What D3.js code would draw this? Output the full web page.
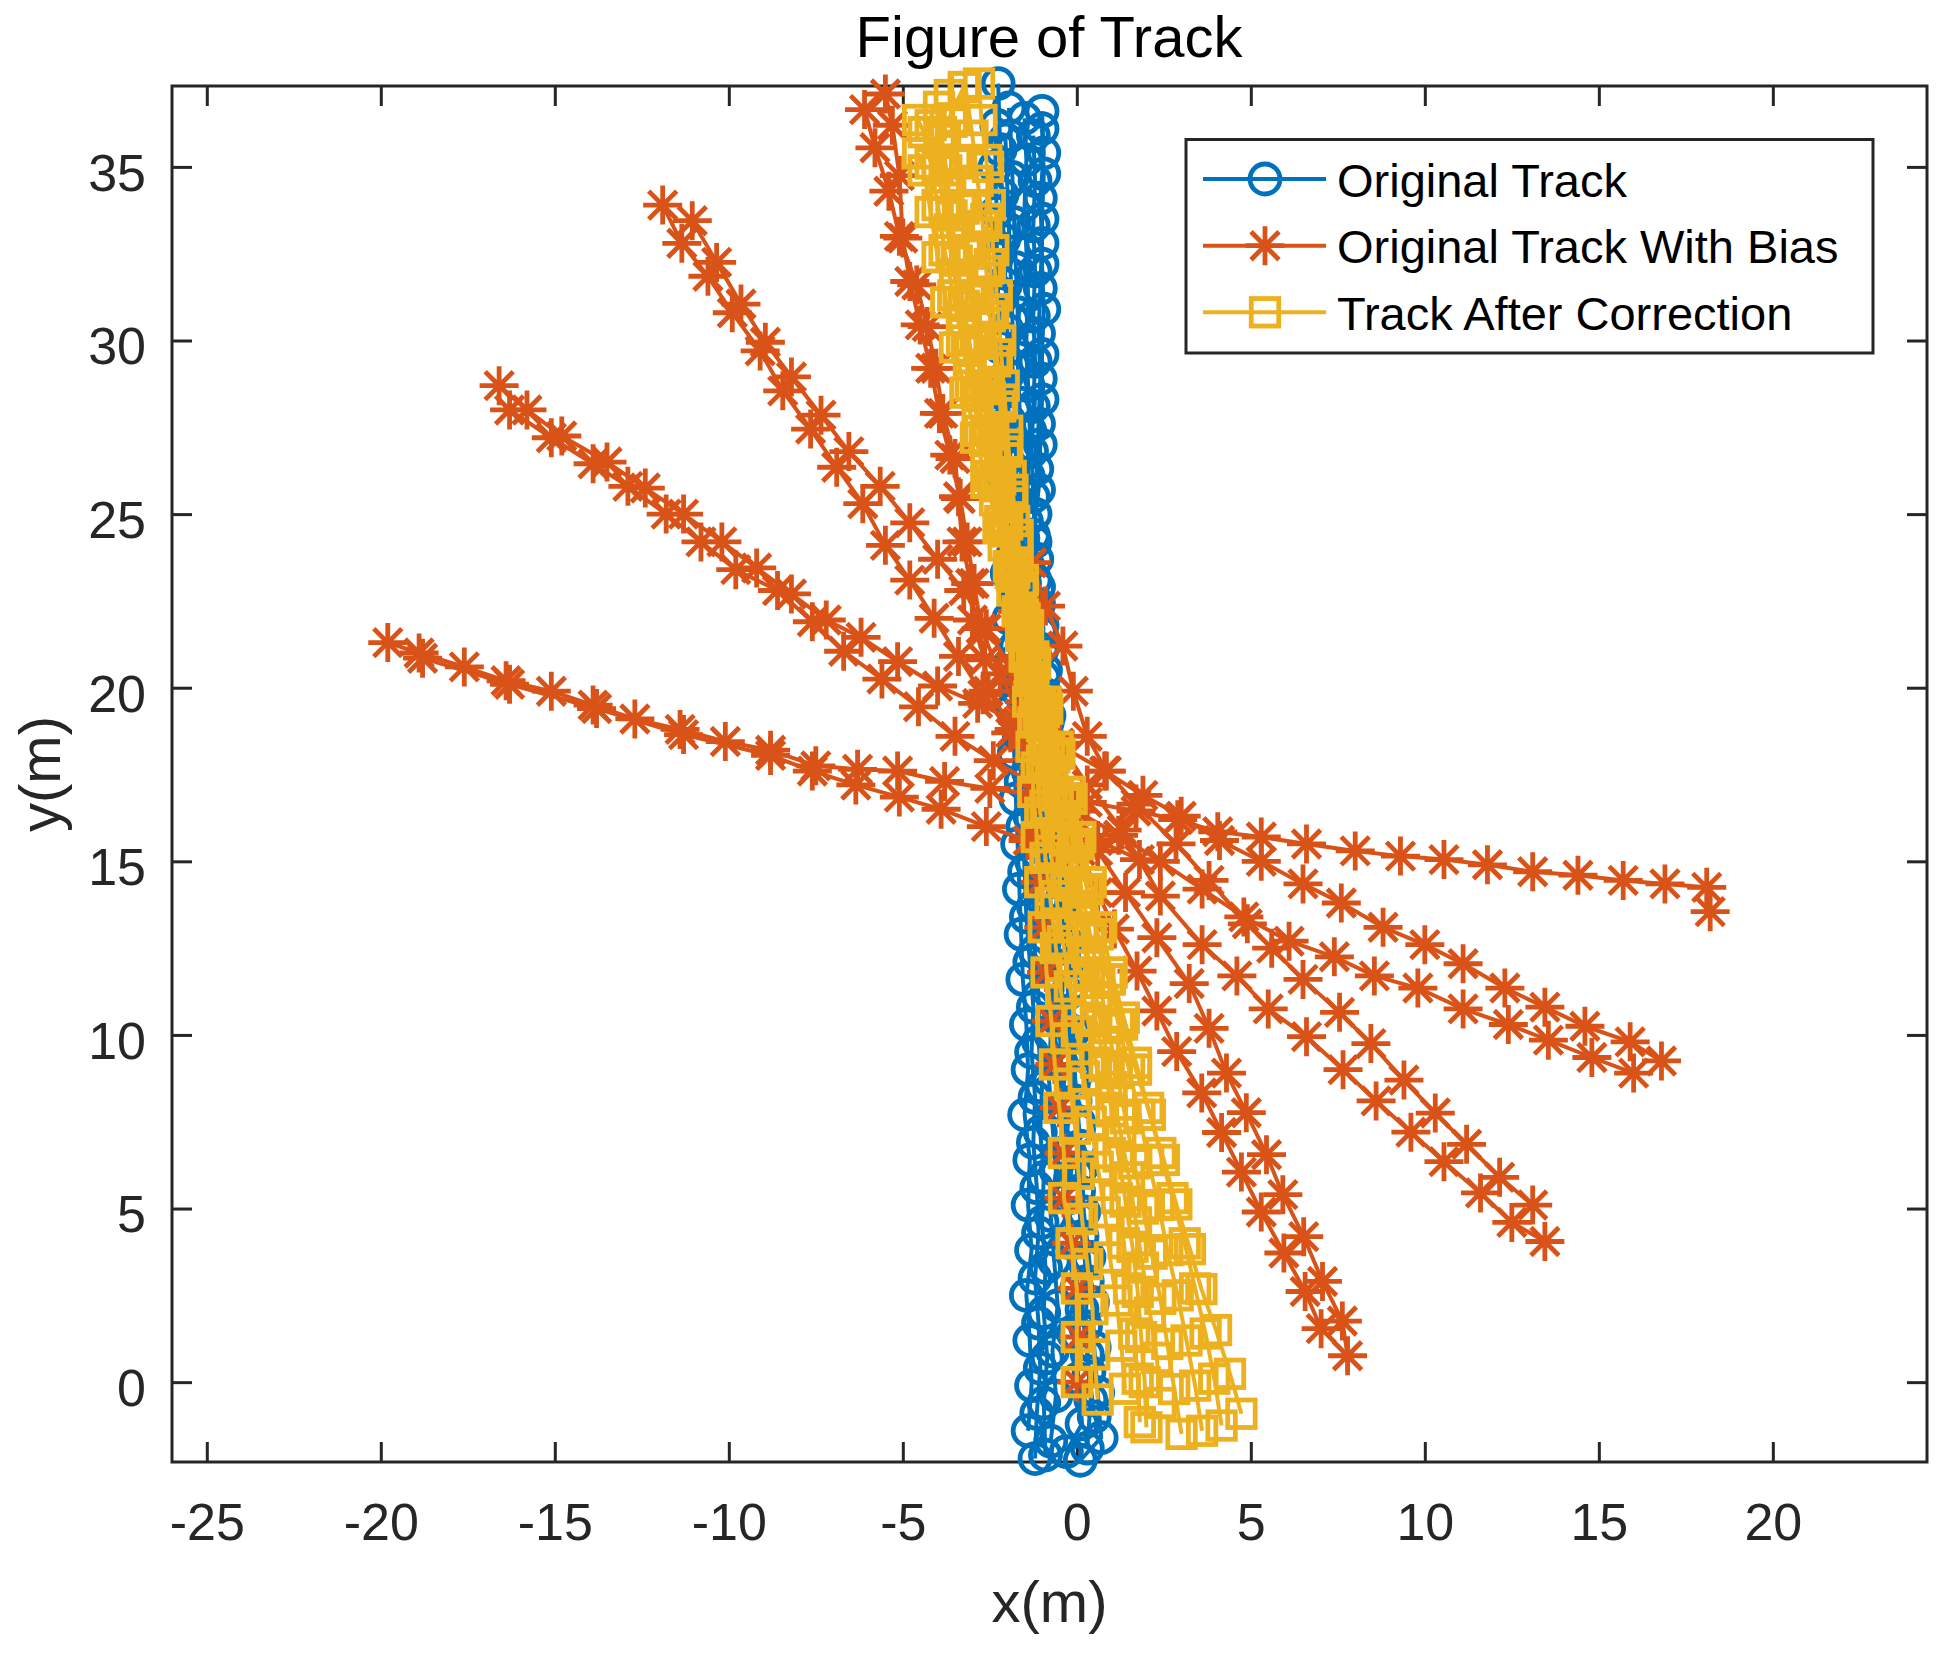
<!DOCTYPE html>
<html><head><meta charset="utf-8">
<script src="https://cdn.jsdelivr.net/npm/d3@7"></script>
<style>
body{margin:0;background:#fff;}
svg{display:block;}
text{font-family:"Liberation Sans",Arial,Helvetica,sans-serif;}
</style>
</head><body>
<svg id="chart" width="1956" height="1659"></svg>
<script>
// ---------------- DATA ----------------
const titleText = "Figure of Track";
const xLabel = "x(m)";
const yLabel = "y(m)";
const seriesNames = ["Original Track","Original Track With Bias","Track After Correction"];
const xTicks = [-25,-20,-15,-10,-5,0,5,10,15,20];
const yTicks = [0,5,10,15,20,25,30,35];

// Original Track: passes (x values at their y levels)
const blueYa = [-2.2,-0.9,0.4,1.7,3.0,4.3,5.6,6.9,8.2,9.5,10.8,12.1,13.4,14.7,16.0,17.3,18.6,19.9,21.2,22.5,23.8,25.1,26.4,27.7,29.0,30.3,31.6,32.9,34.2,35.5,37.4];
const blueX1 = [-1.2,-1.15,-1.05,-1.1,-1.2,-1.1,-1.15,-1.25,-1.2,-1.3,-1.25,-1.35,-1.45,-1.5,-1.55,-1.6,-1.65,-1.7,-1.75,-1.8,-1.85,-1.9,-1.9,-1.95,-2.0,-2.0,-2.05,-2.1,-2.15,-2.2,-2.26];
const blueYb = [-2.25,-1.6,-0.3,1.0,2.3,3.6,4.9,6.2,7.5,8.8,10.1,11.4,12.7,14.0,15.3,16.6,17.9,19.2,20.5,21.8,23.1,24.4,25.7,27.0,28.3,29.6,30.9,32.2,33.5,34.8,36.1];
const blueX2 = [0.1,0.7,0.6,0.5,0.45,0.35,0.2,0.15,0.05,-0.05,-0.1,-0.2,-0.3,-0.4,-0.5,-0.6,-0.7,-0.8,-0.9,-1.0,-1.2,-1.25,-1.1,-1.05,-1.0,-1.0,-0.95,-1.0,-1.0,-0.95,-1.0];
const blueYc = [-1.7,-0.4,0.9,2.2,3.5,4.8,6.1,7.4,8.7,10.0,11.3,12.6,13.9,15.2,16.5,17.8,19.1,20.4,21.7,23.0,24.3,25.6,26.9,28.2,29.5,30.8,32.1,33.4,34.7,35.9,36.7];
const blueX3 = [-0.75,-0.6,-0.7,-0.55,-0.65,-0.75,-0.6,-0.7,-0.8,-0.75,-0.85,-0.95,-1.0,-1.1,-1.15,-1.2,-1.3,-1.35,-1.4,-1.5,-1.55,-1.6,-1.6,-1.65,-1.7,-1.7,-1.75,-1.8,-1.85,-1.9,-1.95];
const blueYd = [-2.0,-1.2,0.1,1.4,2.7,4.0,5.3,6.6,7.9,9.2,10.5,11.8,13.1,14.4,15.7,17.0,18.3,19.6,20.9,22.2,23.5,24.8,26.1,27.4,28.7,30.0,31.3,32.6,33.9,35.2,36.4];
const blueX4 = [-0.3,0.15,0.05,-0.1,0.0,-0.15,-0.25,-0.2,-0.35,-0.45,-0.5,-0.6,-0.7,-0.8,-0.9,-1.0,-1.05,-1.1,-1.2,-1.3,-1.4,-1.45,-1.4,-1.35,-1.4,-1.45,-1.4,-1.45,-1.5,-1.45,-1.5];
const blueYe = [-1.4,-0.1,1.2,2.5,3.8,5.1,6.4,7.7,9.0,10.3,11.6,12.9,14.2,15.5,16.8,18.1,19.4,20.7,22.0,23.3,24.6,25.9,27.2,28.5,29.8,31.1,32.4,33.7,35.0,36.2];
const blueX5 = [-1.4,-1.3,-1.35,-1.45,-1.3,-1.4,-1.35,-1.5,-1.4,-1.45,-1.55,-1.6,-1.65,-1.7,-1.75,-1.8,-1.85,-1.9,-1.95,-2.0,-2.05,-2.1,-2.15,-2.2,-2.2,-2.25,-2.3,-2.3,-2.35,-2.3];
const blueYf = [-1.0,0.3,1.6,2.9,4.2,5.5,6.8,8.1,9.4,10.7,12.0,13.3,14.6,15.9,17.2,18.5,19.8,21.1,22.4,23.7,25.0,26.3,27.6,28.9,30.2,31.5,32.8,34.1,35.4,36.6];
const blueX6 = [0.5,0.35,0.25,0.3,0.15,0.05,0.1,-0.05,-0.15,-0.2,-0.3,-0.4,-0.5,-0.6,-0.7,-0.8,-0.9,-1.0,-1.1,-1.15,-1.2,-1.15,-1.1,-1.05,-1.1,-1.05,-1.0,-1.05,-0.95,-1.0];
const blueYg = [-2.1,-0.6,0.7,2.0,3.3,4.6,5.9,7.2,8.5,9.8,11.1,12.4,13.7,15.0,16.3,17.6,18.9,20.2,21.5,22.8,24.1,25.4,26.7,28.0,29.3,30.6,31.9,33.2,34.5,35.8];
const blueX7 = [-0.9,-0.95,-0.85,-0.95,-0.9,-1.0,-0.95,-1.05,-1.0,-1.1,-1.1,-1.2,-1.25,-1.3,-1.35,-1.4,-1.5,-1.55,-1.6,-1.65,-1.7,-1.75,-1.75,-1.8,-1.85,-1.85,-1.9,-1.95,-2.0,-2.05];
const blueYh = [-1.9,-0.5,0.8,2.1,3.4,4.7,6.0,7.3,8.6,9.9,11.2,12.5,13.8,15.1,16.4,17.7,19.0,20.3,21.6,22.9,24.2,25.5,26.8,28.1,29.4,30.7,32.0,33.3,34.6,35.9];
const blueX8 = [0.3,0.4,0.3,0.15,0.25,0.1,0.0,0.05,-0.1,-0.2,-0.25,-0.35,-0.45,-0.6,-0.65,-0.75,-0.85,-0.95,-1.05,-1.1,-1.2,-1.25,-1.3,-1.25,-1.2,-1.25,-1.2,-1.25,-1.2,-1.25];

// Original Track With Bias: passes as [x,y]
const biasA1 = [[-19.8,21.3],[-18.9,21.0],[-17.6,20.6],[-16.4,20.2],[-15.1,19.9],[-13.9,19.5],[-12.7,19.1],[-11.4,18.8],[-10.1,18.45],[-8.8,18.2],[-7.5,17.75],[-6.3,17.65],[-5.15,17.6],[-3.8,17.3],[-2.5,17.1],[-1.1,16.9],[0.3,16.7],[1.7,16.45],[2.9,16.2],[4.05,15.85],[5.3,15.7],[6.6,15.5],[8.0,15.3],[9.3,15.15],[10.55,15.05],[11.8,14.9],[13.1,14.7],[14.4,14.6],[15.7,14.45],[16.9,14.35],[18.1,14.25],[18.2,13.55]];
const biasA2 = [[-18.8,20.85],[-16.3,20.1],[-13.8,19.4],[-11.3,18.65],[-8.8,18.05],[-7.6,17.6],[-6.35,17.2],[-5.1,16.85],[-3.9,16.5],[-2.6,16.0],[-1.4,15.6],[-0.3,15.4]];
const biasB1 = [[-16.6,28.7],[-15.8,28.0],[-14.8,27.25],[-13.5,26.5],[-12.4,25.75],[-11.3,25.0],[-10.2,24.2],[-9.2,23.45],[-8.2,22.7],[-7.2,21.95],[-6.2,21.45],[-5.15,20.75],[-4.0,20.05],[-2.85,19.55],[-1.7,19.0],[-0.5,18.35],[0.8,17.6],[1.9,16.9],[3.0,16.3],[4.1,15.6],[5.3,15.0],[6.5,14.35],[7.6,13.8],[8.8,13.1],[10.0,12.6],[11.1,12.05],[12.3,11.35],[13.45,10.8],[14.6,10.25],[15.9,9.8],[16.8,9.25]];
const biasB2 = [[-16.3,28.0],[-15.1,27.2],[-13.9,26.45],[-12.9,25.8],[-11.8,25.0],[-10.8,24.2],[-9.8,23.4],[-8.6,22.8],[-7.6,21.9],[-6.7,21.05],[-5.6,20.25],[-4.55,19.45],[-3.5,18.6],[-2.4,17.9],[-1.2,17.2],[0.0,16.45],[1.2,15.75],[2.4,15.0],[3.6,14.2],[4.8,13.4],[6.1,12.7],[7.4,12.25],[8.55,11.7],[9.8,11.35],[11.1,10.75],[12.4,10.3],[13.55,9.85],[14.8,9.35],[16.0,8.9]];
const biasC1 = [[-11.9,33.9],[-11.35,32.8],[-10.6,31.85],[-9.9,30.8],[-9.1,29.7],[-8.45,28.55],[-7.65,27.45],[-6.9,26.35],[-6.15,25.3],[-5.5,24.1],[-4.8,23.1],[-4.1,22.0],[-3.4,20.9],[-2.7,19.8],[-1.9,18.7],[-1.1,17.7],[-0.3,16.6],[0.6,15.6],[1.8,15.05]];
const biasC2 = [[-11.05,33.45],[-10.35,32.25],[-9.65,31.05],[-8.95,29.95],[-8.2,28.95],[-7.35,27.85],[-6.55,26.8],[-5.65,25.8],[-4.8,24.75],[-4.0,23.7],[-3.25,22.8],[-2.6,21.7],[-1.9,20.6],[-1.2,19.5],[-0.5,18.4],[0.3,17.2],[1.3,15.9],[2.4,14.0],[3.6,12.6],[4.6,11.7],[5.5,10.75],[6.6,9.95],[7.65,9.0],[8.6,8.1],[9.6,7.2],[10.55,6.35],[11.6,5.45],[12.5,4.6],[13.45,4.05]];
const biasC3 = [[13.1,5.1],[12.15,5.9],[11.2,6.85],[10.3,7.75],[9.4,8.7],[8.45,9.75],[7.55,10.65],[6.5,11.6],[5.6,12.5],[4.9,13.2],[3.8,14.45],[2.85,15.5],[1.7,16.65],[0.85,17.6],[0.3,18.6],[-0.1,19.9],[-0.4,21.2],[-0.9,22.35],[-1.3,23.6]];
const biasD1 = [[-5.5,37.1],[-5.3,36.2],[-5.1,34.75],[-5.0,32.95],[-4.8,31.7],[-4.5,30.45],[-4.2,29.2],[-3.95,27.9],[-3.65,26.7],[-3.35,25.45],[-3.15,24.2],[-2.95,23.0],[-2.75,21.7],[-2.2,20.4],[-1.6,19.1],[-1.0,17.8],[-0.45,16.55],[0.1,15.3],[0.6,14.1],[1.08,13.05],[1.73,11.84],[2.3,10.69],[2.87,9.52],[3.59,8.33],[4.16,7.19],[4.73,6.05],[5.3,4.9],[5.95,3.72],[6.56,2.61],[7.02,1.54]];
const biasD2 = [[-6.1,36.65],[-5.8,35.55],[-5.4,34.3],[-5.1,33.0],[-4.6,31.6],[-4.3,30.4],[-4.05,29.2],[-3.85,27.9],[-3.5,26.6],[-3.4,25.5],[-3.3,24.2],[-3.05,23.0],[-3.0,21.95],[-2.65,20.8],[-2.55,19.9],[-1.8,18.8],[-1.0,17.6],[-0.2,16.4],[0.6,15.3],[1.4,14.1],[2.3,12.8],[3.23,11.48],[3.8,10.19],[4.3,8.9],[4.87,7.76],[5.45,6.55],[5.92,5.4],[6.52,4.19],[7.06,2.9],[7.63,1.76],[7.78,0.76]];
const biasE = [[0,0],[0.05,1.3],[0.0,2.7],[-0.15,4.0],[-0.37,5.3],[-0.37,6.6],[-0.5,7.9],[-0.63,9.15],[-0.73,10.4],[-0.87,11.8],[-0.95,13.1],[-1.05,14.4],[-1.15,15.7],[-1.3,17.0],[-1.4,18.3],[-1.5,19.6],[-1.6,20.9],[-1.7,22.2],[-1.85,23.5]];

// Track After Correction: passes as [x,y]
const corr1 = [[0,0],[0,1.3],[0,2.7],[-0.15,4.0],[-0.37,5.3],[-0.37,6.6],[-0.5,7.9],[-0.63,9.15],[-0.73,10.4],[-0.87,11.8],[-0.95,13.1],[-1.05,14.4],[-1.15,15.7],[-1.25,17.0],[-1.3,18.3],[-1.4,19.6],[-1.5,20.9],[-1.6,22.2],[-1.7,23.5],[-1.8,24.8],[-1.9,26.1],[-2.0,27.4],[-2.1,28.7],[-2.2,30.0],[-2.3,31.3],[-2.4,32.6],[-2.5,33.9],[-2.6,35.2],[-2.74,36.35],[-2.81,37.4]];
const corr2 = [[1.38,-0.19],[1.28,1.05],[1.14,2.35],[0.95,3.59],[0.8,4.89],[0.6,6.2],[0.4,7.5],[0.2,8.8],[0.0,10.1],[-0.2,11.4],[-0.4,12.7],[-0.6,14.0],[-0.75,15.3],[-0.9,16.6],[-1.0,17.9],[-1.1,19.2],[-1.25,20.5],[-1.4,21.8],[-1.55,23.1],[-1.7,24.4],[-1.85,25.7],[-2.0,27.0],[-2.15,28.3],[-2.3,29.6],[-2.4,30.9],[-2.5,32.2],[-2.6,33.5],[-2.55,35.0]];
const corr3 = [[1.81,-1.15],[1.75,0.1],[1.65,1.4],[1.5,2.7],[1.35,4.0],[1.15,5.3],[0.95,6.6],[0.75,7.9],[0.55,9.2],[0.3,10.5],[0.1,11.8],[-0.1,13.1],[-0.3,14.4],[-0.5,15.7],[-0.7,17.0],[-0.95,18.3],[-1.2,19.6],[-1.45,20.9],[-1.7,22.2],[-1.95,23.5],[-2.15,24.8],[-2.35,26.1],[-2.55,27.4],[-2.75,28.7],[-2.9,30.0],[-3.05,31.3],[-3.2,32.6],[-3.35,33.9],[-3.5,35.2],[-3.6,36.3],[-3.65,37.07]];
const corr4 = [[3.01,-1.49],[2.8,-0.2],[2.6,1.1],[2.4,2.4],[2.15,3.7],[1.9,5.0],[1.65,6.3],[1.4,7.6],[1.15,8.9],[0.9,10.2],[0.65,11.5],[0.4,12.8],[0.15,14.1],[-0.1,15.4],[-0.35,16.7],[-0.65,18.0],[-0.95,19.3],[-1.25,20.6],[-1.55,21.9],[-1.85,23.2],[-2.1,24.5],[-2.35,25.8],[-2.6,27.1],[-2.85,28.4],[-3.05,29.7],[-3.25,31.0],[-3.45,32.3],[-3.6,33.6],[-3.75,34.9],[-3.9,36.0],[-3.96,36.73]];
const corr5 = [[4.16,-1.25],[3.95,0.1],[3.7,1.4],[3.4,2.7],[3.1,4.0],[2.75,5.3],[2.4,6.6],[2.05,7.9],[1.7,9.2],[1.35,10.5],[1.0,11.8],[0.7,13.1],[0.4,14.4],[0.1,15.7],[-0.2,17.0],[-0.55,18.3],[-0.9,19.6],[-1.25,20.9],[-1.6,22.2],[-1.9,23.5],[-2.2,24.8],[-2.5,26.1],[-2.8,27.4],[-3.05,28.7],[-3.3,30.0],[-3.55,31.3],[-3.8,32.6],[-4.0,33.9],[-4.2,35.1],[-4.4,36.0],[-4.56,36.35]];
const corr6 = [[4.73,-0.91],[4.4,0.24],[4.0,1.5],[3.58,2.68],[3.25,3.83],[2.86,5.12],[2.5,6.4],[2.1,7.7],[1.7,9.0],[1.3,10.3],[0.95,11.6],[0.6,12.9],[0.3,14.2],[0.05,15.5],[-0.15,16.8],[-0.5,18.1],[-0.85,19.4],[-1.2,20.7],[-1.55,22.0],[-1.9,23.3],[-2.25,24.6],[-2.6,25.9],[-2.9,27.2],[-3.2,28.5],[-3.5,29.8],[-3.75,31.1],[-4.0,32.4],[-4.2,33.7],[-4.4,34.9],[-4.56,35.39]];
const corr7 = [[2.4,-0.6],[2.3,0.7],[2.1,2.0],[1.9,3.3],[1.7,4.6],[1.5,5.9],[1.25,7.2],[1.0,8.5],[0.8,9.8],[0.55,11.1],[0.3,12.4],[0.1,13.7],[-0.15,15.0],[-0.4,16.3],[-0.7,17.6],[-1.0,18.9],[-1.3,20.2],[-1.6,21.5],[-1.85,22.8],[-2.1,24.1],[-2.35,25.4],[-2.6,26.7],[-2.85,28.0],[-3.1,29.3],[-3.3,30.6],[-3.5,31.9],[-3.65,33.2],[-3.8,34.5],[-3.95,35.8],[-3.25,37.3]];
const corr8 = [[0.6,-0.5],[0.5,0.8],[0.45,2.1],[0.3,3.4],[0.15,4.7],[0.05,6.0],[-0.05,7.3],[-0.2,8.6],[-0.3,9.9],[-0.45,11.2],[-0.6,12.5],[-0.75,13.8],[-0.9,15.1],[-1.05,16.4],[-1.15,17.7],[-1.25,19.0],[-1.35,20.3],[-1.5,21.6],[-1.6,22.9],[-1.75,24.2],[-1.9,25.5],[-2.05,26.8],[-2.2,28.1],[-2.35,29.4],[-2.5,30.7],[-2.6,32.0],[-2.7,33.3],[-2.85,34.6],[-3.0,35.9],[-3.2,37.3]];
const corr9 = [[3.6,-1.4],[3.4,-0.1],[3.15,1.2],[2.9,2.5],[2.6,3.8],[2.35,5.1],[2.05,6.4],[1.8,7.7],[1.5,9.0],[1.2,10.3],[0.9,11.6],[0.6,12.9],[0.3,14.2],[0.0,15.5],[-0.3,16.8],[-0.6,18.1],[-0.9,19.4],[-1.2,20.7],[-1.5,22.0],[-1.8,23.3],[-2.1,24.6],[-2.4,25.9],[-2.65,27.2],[-2.9,28.5],[-3.15,29.8],[-3.4,31.1],[-3.6,32.4],[-3.8,33.7],[-4.0,35.0],[-4.2,36.2]];
const corr10 = [[2.0,-1.3],[1.95,0.0],[1.85,1.3],[1.75,2.6],[1.6,3.9],[1.4,5.2],[1.2,6.5],[1.0,7.8],[0.8,9.1],[0.55,10.4],[0.35,11.7],[0.15,13.0],[-0.1,14.3],[-0.3,15.6],[-0.55,16.9],[-0.8,18.2],[-1.05,19.5],[-1.3,20.8],[-1.55,22.1],[-1.8,23.4],[-2.0,24.7],[-2.2,26.0],[-2.4,27.3],[-2.6,28.6],[-2.8,29.9],[-2.95,31.2],[-3.1,32.5],[-3.25,33.8],[-3.4,35.1],[-3.55,36.4]];

// ---------------- DRAW ----------------
const colors = ["#0072BD","#D95319","#EDB120"];
const zip = (xs, ys) => xs.map((v,i)=>[v, ys[i]]);
const bluePasses = [zip(blueX1,blueYa), zip(blueX2,blueYb), zip(blueX3,blueYc), zip(blueX4,blueYd),
                    zip(blueX5,blueYe), zip(blueX6,blueYf), zip(blueX7,blueYg), zip(blueX8,blueYh)];
const biasPasses = [biasA1,biasA2,biasB1,biasB2,biasC1,biasC2,biasC3,biasD1,biasD2,biasE];
const corrPasses = [corr1,corr8,corr2,corr3,corr10,corr7,corr4,corr9,corr5,corr6];

const svg = d3.select("#chart");
const M = {left:172, right:1927, top:86, bottom:1462};
const x = d3.scaleLinear().domain([-26.0, 24.43]).range([M.left, M.right]);
const y = d3.scaleLinear().domain([-2.3, 37.33]).range([M.bottom, M.top]);
const axisColor = "#262626";
const LW = 4.0;   // line width
const MW = 4.8;   // marker stroke width

svg.append("rect").attr("width",1956).attr("height",1659).attr("fill","#fff");

function styleAxis(g){
  g.select(".domain").remove();
  g.attr("font-size",52).attr("font-family",'"Liberation Sans",Arial,Helvetica,sans-serif').attr("color",axisColor);
  g.selectAll(".tick line").attr("stroke",axisColor).attr("stroke-width",3);
}
const fmt = d => String(d);
const gx = svg.append("g").attr("transform",`translate(0,${M.bottom})`)
  .call(d3.axisBottom(x).tickValues(xTicks).tickSizeInner(-20).tickSizeOuter(0).tickPadding(41).tickFormat(fmt));
styleAxis(gx);
const gxt = svg.append("g").attr("transform",`translate(0,${M.top})`)
  .call(d3.axisTop(x).tickValues(xTicks).tickSizeInner(-20).tickSizeOuter(0).tickFormat(()=>""));
styleAxis(gxt);
const gy = svg.append("g").attr("transform",`translate(${M.left},0)`)
  .call(d3.axisLeft(y).tickValues(yTicks).tickSizeInner(-20).tickSizeOuter(0).tickPadding(26).tickFormat(fmt));
styleAxis(gy);
gy.selectAll("text").attr("dy","0.45em");
const gyr = svg.append("g").attr("transform",`translate(${M.right},0)`)
  .call(d3.axisRight(y).tickValues(yTicks).tickSizeInner(-20).tickSizeOuter(0).tickFormat(()=>""));
styleAxis(gyr);

svg.append("rect").attr("x",M.left).attr("y",M.top)
  .attr("width",M.right-M.left).attr("height",M.bottom-M.top)
  .attr("fill","none").attr("stroke",axisColor).attr("stroke-width",3);

const line = d3.line().x(d=>x(d[0])).y(d=>y(d[1]));
const starPath = (r=19.5, d=14) => `M0,${-r}L0,${r}M${-r},0L${r},0M${-d},${-d}L${d},${d}M${-d},${d}L${d},${-d}`;

function drawMarker(g, type, cx, cy, color){
  if(type==="circle"){
    g.append("circle").attr("cx",cx).attr("cy",cy).attr("r",15)
      .attr("fill","none").attr("stroke",color).attr("stroke-width",MW);
  } else if(type==="star"){
    g.append("path").attr("d",starPath()).attr("transform",`translate(${cx},${cy})`)
      .attr("fill","none").attr("stroke",color).attr("stroke-width",MW);
  } else {
    const s=27.5;
    g.append("rect").attr("x",cx-s/2).attr("y",cy-s/2).attr("width",s).attr("height",s)
      .attr("fill","none").attr("stroke",color).attr("stroke-width",MW);
  }
}

function drawSeries(passes, color, type){
  const g = svg.append("g");
  passes.forEach(p=>{
    g.append("path").attr("d",line(p)).attr("fill","none").attr("stroke",color)
      .attr("stroke-width",LW).attr("stroke-linejoin","round");
  });
  passes.forEach(p=>p.forEach(d=>drawMarker(g,type,x(d[0]),y(d[1]),color)));
}
drawSeries(bluePasses, colors[0], "circle");
drawSeries(biasPasses, colors[1], "star");
drawSeries(corrPasses, colors[2], "square");

// Title and labels
svg.append("text").attr("x",1049).attr("y",57).attr("text-anchor","middle")
  .attr("font-size",58).attr("fill","#000").text(titleText);
svg.append("text").attr("x",(M.left+M.right)/2).attr("y",1622).attr("text-anchor","middle")
  .attr("font-size",58).attr("fill",axisColor).text(xLabel);
svg.append("text").attr("transform",`translate(60,${(M.top+M.bottom)/2}) rotate(-90)`)
  .attr("text-anchor","middle").attr("font-size",58).attr("fill",axisColor).text(yLabel);

// Legend
const lg = svg.append("g");
lg.append("rect").attr("x",1186).attr("y",139.5).attr("width",687).attr("height",213.5)
  .attr("fill","#fff").attr("stroke",axisColor).attr("stroke-width",3);
const types = ["circle","star","square"];
const rowY = [179, 245.7, 312.3];
seriesNames.forEach((name,i)=>{
  lg.append("line").attr("x1",1203).attr("x2",1326).attr("y1",rowY[i]).attr("y2",rowY[i])
    .attr("stroke",colors[i]).attr("stroke-width",LW);
  drawMarker(lg, types[i], 1265, rowY[i], colors[i]);
  lg.append("text").attr("x",1337).attr("y",rowY[i]+17.5).attr("font-size",47)
    .attr("fill","#000").text(name);
});
</script>
</body></html>
